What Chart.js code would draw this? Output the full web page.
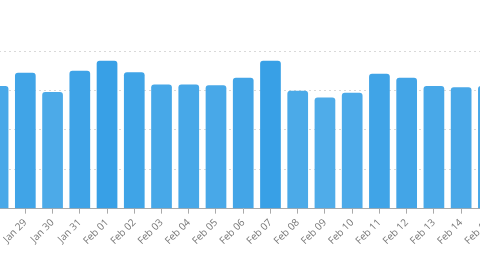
<!DOCTYPE html>
<html>
<head>
<meta charset="utf-8">
<script src="https://cdn.jsdelivr.net/npm/chart.js@4"></script>
<style>
html, body { margin: 0; padding: 0; overflow: hidden; background: #fff; width: 480px; height: 270px; }
#wrap { position: absolute; left: -25px; top: 0; width: 527px; height: 270px; }
</style>
</head>
<body>
<div id="wrap"><canvas id="graficoDias"></canvas></div>
<script>
var dias = ["Jan 28", "Jan 29", "Jan 30", "Jan 31", "Feb 01", "Feb 02", "Feb 03", "Feb 04", "Feb 05", "Feb 06",
            "Feb 07", "Feb 08", "Feb 09", "Feb 10", "Feb 11", "Feb 12", "Feb 13", "Feb 14", "Feb 15"];
var valores = [311, 345, 296, 350, 375, 346, 315, 315, 313, 332, 375, 299, 282, 294, 342, 332, 311, 308, 311];
var yMax = 400;
var yPasso = 100;

// cor mais escura para valores maiores
function corBarra(c) {
    var v = valores[c.dataIndex];
    var t = (v - 280) / (375 - 280);
    var r = Math.round(80 - t * 24);
    var g = Math.round(172 - t * 12);
    var b = Math.round(233 - t * 3);
    return 'rgb(' + r + ',' + g + ',' + b + ')';
}

var ctx = document.getElementById("graficoDias");
var myChart = new Chart(ctx, {
    type: 'bar',
    data: {
        labels: dias,
        datasets: [{
            data: valores,
            backgroundColor: corBarra,
            borderRadius: 3,
            barPercentage: 0.95,
            categoryPercentage: 0.8
        }]
    },
    options: {
        responsive: true,
        maintainAspectRatio: false,
        animation: false,
        layout: { padding: { top: 51, bottom: 20, left: 0, right: 0 } },
        plugins: {
            legend: { display: false },
            tooltip: { enabled: false }
        },
        scales: {
            x: {
                grid: { drawOnChartArea: false, offset: false, tickLength: 5, color: '#aaa' },
                border: { color: '#aaa' },
                ticks: {
                    autoSkip: false,
                    maxRotation: 45,
                    minRotation: 45,
                    color: '#777',
                    font: { family: 'Open Sans', size: 10 }
                }
            },
            y: {
                min: 0,
                max: yMax,
                ticks: { display: false, stepSize: yPasso },
                grid: { color: '#d9d9d9', drawTicks: false },
                border: { display: false, dash: [2, 3] }
            }
        }
    }
});
</script>
</body>
</html>
